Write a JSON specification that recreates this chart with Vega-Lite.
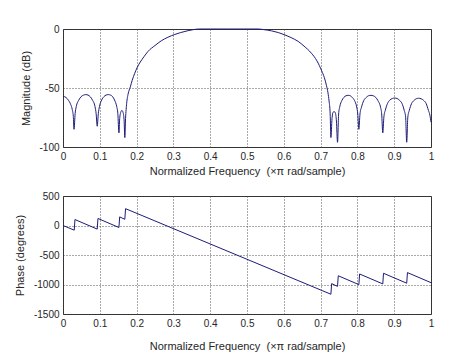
{
  "$schema": "https://vega.github.io/schema/vega-lite/v6.json",
  "padding": {"left": 13, "top": 23, "right": 5, "bottom": 5},
  "background": "white",
  "bounds": "flush",
  "spacing": 49,
  "config": {
    "font": "Liberation Sans",
    "locale": {"number": {"decimal": ".", "thousands": "", "grouping": [3], "currency": ["$", ""], "minus": "-"}},
    "view": {"stroke": "#303030", "strokeWidth": 1},
    "axis": {
      "domain": false, "ticks": false, "grid": true,
      "gridColor": "#404040", "gridDash": [1, 2], "gridWidth": 1, "gridOpacity": 0.9,
      "labelFont": "Liberation Sans", "labelFontSize": 10, "labelColor": "#262626",
      "titleFont": "Liberation Sans", "titleFontSize": 11, "titleFontWeight": "normal", "titleColor": "#262626",
      "labelPadding": 4, "labelFlush": false
    }
  },
  "datasets": {
    "mag": [
      {"f":0,"db":-57},{"f":0.008,"db":-58},{"f":0.015,"db":-60.5},{"f":0.021,"db":-64},{"f":0.025,"db":-68},{"f":0.028,"db":-74},{"f":0.030,"db":-85},
      {"f":0.033,"db":-71.6},{"f":0.036,"db":-65.8},{"f":0.043,"db":-60.2},{"f":0.049,"db":-57.4},{"f":0.056,"db":-56},{"f":0.062,"db":-55.6},{"f":0.068,"db":-56},{"f":0.074,"db":-57.4},{"f":0.080,"db":-60.2},{"f":0.087,"db":-65.8},{"f":0.090,"db":-71.6},{"f":0.093,"db":-82.4},
      {"f":0.096,"db":-71.6},{"f":0.099,"db":-65.8},{"f":0.105,"db":-60.2},{"f":0.111,"db":-57.4},{"f":0.117,"db":-56},{"f":0.123,"db":-55.6},{"f":0.129,"db":-56},{"f":0.135,"db":-57.4},{"f":0.140,"db":-60.2},{"f":0.146,"db":-65.8},{"f":0.149,"db":-71.6},{"f":0.152,"db":-88},
      {"f":0.154,"db":-76},{"f":0.157,"db":-70.5},{"f":0.160,"db":-69},{"f":0.163,"db":-70.5},{"f":0.166,"db":-77},{"f":0.168,"db":-92},
      {"f":0.170,"db":-76},{"f":0.173,"db":-63},{"f":0.177,"db":-55},{"f":0.183,"db":-49},{"f":0.188,"db":-43.5},{"f":0.195,"db":-37.5},{"f":0.201,"db":-33},{"f":0.21,"db":-28},{"f":0.22,"db":-23.5},{"f":0.231,"db":-19},{"f":0.25,"db":-14},{"f":0.267,"db":-10},{"f":0.285,"db":-7},{"f":0.304,"db":-4.6},{"f":0.32,"db":-3},{"f":0.34,"db":-1.4},{"f":0.355,"db":-0.5},{"f":0.37,"db":0},{"f":0.4,"db":0},{"f":0.45,"db":0},{"f":0.5,"db":0},{"f":0.53,"db":0},
      {"f":0.545,"db":-0.5},{"f":0.567,"db":-1.6},{"f":0.585,"db":-3},{"f":0.603,"db":-5},{"f":0.62,"db":-7.3},{"f":0.639,"db":-10.5},{"f":0.655,"db":-14.5},{"f":0.675,"db":-20.5},{"f":0.69,"db":-27},{"f":0.703,"db":-35.5},{"f":0.71,"db":-41},{"f":0.716,"db":-48},{"f":0.72,"db":-54},{"f":0.723,"db":-61},{"f":0.726,"db":-72},{"f":0.728,"db":-92},
      {"f":0.731,"db":-76},{"f":0.734,"db":-70.5},{"f":0.737,"db":-70},{"f":0.740,"db":-71},{"f":0.743,"db":-78},{"f":0.746,"db":-96},
      {"f":0.749,"db":-72},{"f":0.752,"db":-66},{"f":0.758,"db":-60.5},{"f":0.763,"db":-58},{"f":0.769,"db":-56.6},{"f":0.775,"db":-56.2},{"f":0.781,"db":-56.6},{"f":0.786,"db":-58},{"f":0.792,"db":-60.5},{"f":0.798,"db":-66},{"f":0.801,"db":-72},{"f":0.804,"db":-85},
      {"f":0.807,"db":-72},{"f":0.811,"db":-66.4},{"f":0.817,"db":-60.8},{"f":0.824,"db":-58},{"f":0.830,"db":-56.6},{"f":0.837,"db":-56.2},{"f":0.843,"db":-56.6},{"f":0.850,"db":-58},{"f":0.856,"db":-60.8},{"f":0.863,"db":-66.4},{"f":0.866,"db":-72},{"f":0.869,"db":-88},
      {"f":0.872,"db":-74.5},{"f":0.876,"db":-68.7},{"f":0.882,"db":-63},{"f":0.888,"db":-60.3},{"f":0.895,"db":-58.9},{"f":0.901,"db":-58.5},{"f":0.908,"db":-58.9},{"f":0.914,"db":-60.3},{"f":0.921,"db":-63},{"f":0.927,"db":-68.7},{"f":0.931,"db":-74.5},{"f":0.934,"db":-96},
      {"f":0.937,"db":-74.7},{"f":0.941,"db":-69},{"f":0.947,"db":-63.3},{"f":0.954,"db":-60.5},{"f":0.960,"db":-59.1},{"f":0.966,"db":-58.7},{"f":0.973,"db":-59.1},{"f":0.980,"db":-60.5},{"f":0.987,"db":-63.3},{"f":0.993,"db":-69},{"f":0.997,"db":-73},{"f":1.0,"db":-79}
    ],
    "phase": [
      {"i":1,"f":0,"ph":0},
      {"i":2,"f":0.0305,"ph":-79},{"i":3,"f":0.0325,"ph":101},
      {"i":4,"f":0.093,"ph":-61},{"i":5,"f":0.095,"ph":119},
      {"i":6,"f":0.152,"ph":-34},{"i":7,"f":0.154,"ph":146},
      {"i":8,"f":0.168,"ph":105},{"i":9,"f":0.170,"ph":285},
      {"i":10,"f":0.728,"ph":-1165},{"i":11,"f":0.730,"ph":-985},
      {"i":12,"f":0.746,"ph":-1032},{"i":13,"f":0.748,"ph":-852},
      {"i":14,"f":0.804,"ph":-1002},{"i":15,"f":0.806,"ph":-822},
      {"i":16,"f":0.869,"ph":-990},{"i":17,"f":0.871,"ph":-810},
      {"i":18,"f":0.934,"ph":-978},{"i":19,"f":0.936,"ph":-798},
      {"i":20,"f":1.0,"ph":-969}
    ]
  },
  "vconcat": [
    {
      "width": 368, "height": 118,
      "data": {"name": "mag"},
      "mark": {"type": "line", "color": "#1c1c78", "strokeWidth": 1, "interpolate": "monotone"},
      "encoding": {
        "x": {"field": "f", "type": "quantitative",
          "scale": {"domain": [0, 1], "nice": false, "zero": false},
          "axis": {"values": [0,0.1,0.2,0.3,0.4,0.5,0.6,0.7,0.8,0.9,1], "format": "~g",
            "title": "Normalized Frequency \u00a0(×π rad/sample)", "titleY": 24, "titleBaseline": "middle"}},
        "y": {"field": "db", "type": "quantitative",
          "scale": {"domain": [-100, 0], "nice": false},
          "axis": {"values": [-100, -50, 0], "format": "d", "title": "Magnitude (dB)",
            "titleX": -36.7, "titleY": 59, "titleAngle": 270, "titleAlign": "center", "titleBaseline": "middle"}}
      }
    },
    {
      "width": 368, "height": 118,
      "data": {"name": "phase"},
      "mark": {"type": "line", "color": "#1c1c78", "strokeWidth": 1},
      "encoding": {
        "x": {"field": "f", "type": "quantitative",
          "scale": {"domain": [0, 1], "nice": false, "zero": false},
          "axis": {"values": [0,0.1,0.2,0.3,0.4,0.5,0.6,0.7,0.8,0.9,1], "format": "~g",
            "title": "Normalized Frequency \u00a0(×π rad/sample)", "titleY": 32, "titleBaseline": "middle"}},
        "y": {"field": "ph", "type": "quantitative",
          "scale": {"domain": [-1500, 500], "nice": false},
          "axis": {"values": [-1500, -1000, -500, 0, 500], "format": "d", "title": "Phase (degrees)",
            "titleX": -42.7, "titleY": 59, "titleAngle": 270, "titleAlign": "center", "titleBaseline": "middle"}},
        "order": {"field": "i", "type": "quantitative"}
      }
    }
  ]
}
